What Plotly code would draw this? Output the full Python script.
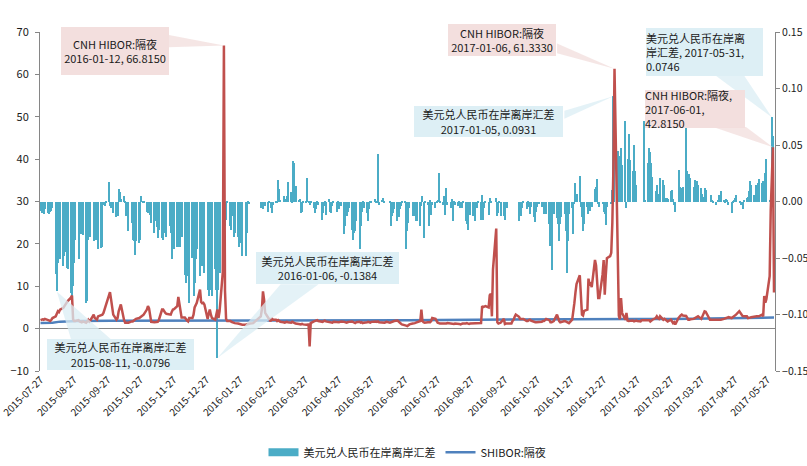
import pandas as pd
import plotly.graph_objects as go

# ---------------- data ----------------
BAR_NAME = "美元兑人民币在岸离岸汇差"
HIBOR_NAME = "CNH HIBOR:隔夜"
SHIBOR_NAME = "SHIBOR:隔夜"

first_day = "2015-07-27"
last_day = "2017-06-02"

# USD/CNY onshore-offshore spread (right axis), one value per business day
spread = [
    # 2015-07
    -0.008, -0.010, -0.009, -0.011, -0.007,
    # 2015-08
    -0.010, -0.011, -0.009, -0.008, -0.006,
    -0.064, -0.0796, -0.054, -0.045, -0.051,
    -0.057, -0.048, -0.045, -0.059, -0.060,
    -0.081, -0.084, -0.075, -0.054, -0.034,
    -0.051,
    # 2015-09
    -0.029, -0.028, -0.029, -0.030,
    -0.090, -0.088, -0.034, -0.004, -0.031,
    -0.035, -0.034, -0.034, -0.019, -0.042,
    -0.041, -0.040, -0.003, -0.004, -0.001,
    0.017, -0.004, -0.006,
    # 2015-10
    -0.006, -0.010,
    -0.014, -0.013, 0.011, 0.008, 0.002,
    0.005, -0.001, -0.013, -0.010, -0.026,
    -0.019, -0.034, -0.035, -0.047, -0.035,
    -0.037, -0.034, 0.005, -0.001, -0.001,
    # 2015-11
    -0.009, -0.010, -0.003, -0.012, -0.019,
    -0.028, -0.017, -0.023, -0.032, -0.025,
    -0.032, -0.034, -0.017, -0.028, -0.031,
    -0.022, -0.028, -0.051, -0.042, -0.042,
    -0.040,
    # 2015-12
    -0.040, -0.034, -0.040, -0.031,
    -0.065, -0.072, -0.059, -0.066, -0.090,
    -0.050, -0.084, -0.072, -0.051, -0.042,
    -0.066, -0.054, -0.057, -0.042, -0.063,
    -0.078, -0.084, -0.060, -0.078,
    # 2016-01
    -0.084,
    -0.060, -0.078, -0.1384, -0.078, -0.063,
    -0.013, -0.025, -0.022, -0.016, -0.001,
    -0.022, -0.025, -0.013, -0.031, -0.028,
    -0.031, -0.040, -0.034, -0.037, -0.048,
    # 2016-02
    -0.048, -0.028, -0.001, -0.002, None,
    None, None, None, None, None,
    -0.006, -0.004, -0.007, -0.003, -0.004,
    -0.009, -0.001, -0.006, -0.010, -0.003,
    -0.001,
    # 2016-03
    -0.001, 0.019, 0.011, 0.001,
    0.005, 0.002, 0.002, 0.005, 0.017,
    0.008, -0.001, 0.036, 0.034, 0.014,
    0.001, 0.002, -0.010, -0.009, -0.001,
    -0.001, 0.021, -0.001, -0.003,
    # 2016-04
    -0.001,
    -0.006, -0.010, -0.007, -0.001, -0.003,
    -0.016, -0.010, -0.004, -0.001, -0.012,
    0.002, -0.009, -0.010, -0.004, -0.001,
    -0.009, -0.001, -0.007, -0.004, -0.004,
    # 2016-05
    -0.029, -0.022, -0.013, -0.009, -0.006,
    -0.025, -0.034, -0.028, -0.026, -0.017,
    -0.042, -0.022, -0.009, -0.001, -0.006,
    -0.010, -0.017, -0.007, -0.001, -0.001,
    0.002, -0.001,
    # 2016-06
    -0.001, 0.042, -0.003,
    0.001, 0.003, -0.001, None, None,
    -0.001, -0.022, -0.013, -0.010, -0.007,
    -0.017, -0.014, -0.007, -0.004, -0.001,
    -0.001, -0.042, -0.026, -0.019,
    # 2016-07
    -0.006,
    -0.013, -0.013, -0.009, -0.017, -0.017,
    -0.022, -0.004, 0.005, -0.032, -0.001,
    -0.003, -0.022, 0.001, -0.012, -0.003,
    -0.006, -0.001, 0.001, 0.025, -0.001,
    # 2016-08
    -0.003, 0.005, -0.012, 0.012, -0.003,
    -0.006, 0.002, -0.017, -0.001, -0.003,
    -0.004, -0.001, -0.006, -0.006, -0.001,
    -0.017, -0.020, -0.025, -0.010, -0.012,
    -0.013, -0.017, -0.006,
    # 2016-09
    -0.006, -0.001,
    -0.016, 0.006, -0.016, -0.006, -0.001,
    -0.012, 0.003, -0.001, None, None,
    0.003, -0.013, -0.010, -0.001, -0.013,
    -0.013, -0.016, -0.006, -0.006, None,
    # 2016-10
    None, None, None, None, None,
    -0.017, -0.013, -0.013, -0.006, -0.001,
    -0.007, -0.001, -0.005, -0.011, -0.005,
    -0.014, -0.018, -0.009, -0.005, -0.002,
    -0.005,
    # 2016-11
    -0.005, -0.011, -0.006, -0.011,
    -0.020, -0.039, -0.061, -0.005, -0.011,
    -0.015, -0.020, -0.035, -0.020, -0.014,
    -0.011, -0.026, -0.063, -0.035, -0.011,
    -0.006, -0.029, -0.002,
    # 2016-12
    0.016, 0.007,
    0.023, -0.005, -0.014, -0.026, -0.020,
    -0.005, -0.011, -0.008, -0.002, -0.005,
    0.011, 0.013, 0.020, -0.002, -0.005,
    -0.002, -0.009, -0.011, -0.021, -0.005,
    # 2017-01
    None, -0.002, 0.010, 0.0931, 0.060,
    0.045, 0.038, 0.040, 0.047, 0.032,
    0.071, -0.006, 0.038, 0.060, 0.037,
    0.027, 0.050, 0.027, 0.015, None,
    None, None,
    # 2017-02
    None, 0.071, 0.001,
    0.034, 0.047, 0.044, 0.034, 0.022,
    0.009, 0.015, 0.007, 0.007, 0.021,
    0.019, 0.015, 0.003, 0.003, 0.002,
    0.009, 0.010,
    # 2017-03
    0.002, -0.003, -0.009,
    0.028, 0.013, 0.003, 0.012, 0.013,
    0.065, 0.027, 0.018, 0.024, 0.021,
    0.013, 0.019, 0.018, 0.018, 0.015,
    0.012, 0.007, 0.004, 0.012, 0.010,
    # 2017-04
    None, None, 0.006, 0.001, -0.001,
    -0.003, 0.001, 0.006, 0.002, 0.009,
    0.001, -0.001, 0.002, 0.001, -0.003,
    -0.010, -0.001, 0.001, 0.003, 0.006,
    # 2017-05
    None, -0.001, -0.003, -0.007, 0.001,
    0.003, 0.004, 0.009, 0.018, 0.015,
    0.006, 0.015, 0.015, 0.016, 0.020,
    0.016, 0.018, 0.016, 0.025, 0.038,
    0.001, 0.003, 0.0746,
    # 2017-06
    0.058,
]

# CNH HIBOR overnight (left axis), one value per business day
hibor = [
    # 2015-07
    2.0, 2.1, 2.2, 2.1, 2.3,
    # 2015-08
    2.0, 1.8, 1.8, 2.1, 2.5,
    2.9, 3.7, 4.1, 3.9, 4.5,
    4.9, 5.3, 5.4, 6.1, 6.5,
    7.3, 7.8, 2.2, 1.8, 1.8,
    2.0,
    # 2015-09
    1.7, 1.5, 1.5, 1.7,
    1.4, 1.7, 2.1, 1.7, 2.0,
    3.3, 2.5, 2.3, 2.1, 2.9,
    3.1, 3.3, 3.7, 4.5, 5.3,
    7.6, 8.6, 6.9,
    # 2015-10
    4.5, 3.3,
    2.1, 2.5, 4.1, 5.0, 5.7,
    2.0, 1.4, 1.4, 1.4, 1.4,
    1.7, 1.7, 1.9, 2.1, 2.3,
    2.5, 2.7, 2.9, 2.9, 3.3,
    # 2015-11
    4.5, 5.3, 4.8, 2.5, 1.6,
    1.5, 1.5, 1.6, 1.6, 2.0,
    4.5, 4.5, 4.0, 3.7, 3.5,
    3.3, 3.3, 4.0, 4.5, 4.6,
    5.3,
    # 2015-12
    7.5, 6.0, 4.5, 2.6,
    2.6, 2.1, 1.9, 1.7, 2.5,
    2.5, 3.3, 5.0, 5.5, 6.1,
    9.2, 6.3, 6.0, 6.1, 5.7,
    2.3, 3.5, 4.5, 3.3,
    # 2016-01
    2.5,
    2.1, 3.3, 4.5, 2.5, 4.1,
    13.4, 66.815, 9.0, 2.3, 1.8,
    1.8, 1.6, 1.5, 1.4, 1.3,
    1.2, 1.1, 1.0, 1.0, 0.9,
    # 2016-02
    0.9, 1.0, 1.1, 1.2, 1.2,
    1.3, 1.5, 1.7, 1.9, 2.1,
    2.9, 4.5, 8.8, 6.9, 3.7,
    2.5, 2.1, 1.7, 2.5, 2.1,
    2.1,
    # 2016-03
    1.8, 2.0, 1.7, 1.6,
    1.5, 1.4, 1.5, 1.6, 1.5,
    1.4, 1.6, 1.5, 1.3, 1.2,
    1.1, 1.0, 1.0, 1.1, 1.0,
    0.9, 0.9, 1.0, -4.2,
    # 2016-04
    1.3,
    1.7, 1.8, 1.9, 2.0, 1.8,
    1.7, 1.6, 1.8, 1.9, 1.7,
    1.5, 1.6, 1.5, 1.4, 1.6,
    1.5, 1.4, 1.5, 1.6, 1.7,
    # 2016-05
    1.6, 1.5, 1.4, 1.5, 1.6,
    1.7, 1.5, 1.4, 1.3, 1.5,
    1.6, 1.4, 1.5, 1.3, 1.4,
    1.5, 1.6, 1.5, 1.4, 1.6,
    1.8, 1.7,
    # 2016-06
    1.6, 1.7, 1.5,
    1.4, 1.3, 1.4, 1.5, 1.6,
    1.4, 1.5, 1.6, 1.7, 1.8,
    1.9, 1.6, 1.4, 1.2, 1.0,
    0.9, 0.7, 0.6, 0.8,
    # 2016-07
    1.0,
    1.2, 1.2, 1.3, 1.4, 1.5,
    1.8, 4.5, 1.8, 1.5, 1.4,
    1.5, 1.5, 1.5, 1.8, 2.5,
    2.3, 1.8, 1.4, 1.3, 1.2,
    # 2016-08
    1.2, 1.2, 1.1, 1.2, 1.3,
    1.2, 1.1, 1.0, 1.1, 1.2,
    1.2, 1.1, 1.0, 1.1, 1.2,
    1.2, 1.3, 1.2, 1.1, 1.2,
    1.2, 1.2, 1.2,
    # 2016-09
    1.2, 1.2,
    1.3, 5.3, 5.1, 5.2, 5.3,
    5.0, 7.9, 8.2, 2.9, 14.0,
    23.6, 1.5, 1.2, 1.3, 1.4,
    2.3, 1.1, 1.2, 1.2, 1.1,
    # 2016-10
    1.2, 1.8, 2.1, 2.8, 3.3,
    2.8, 2.3, 2.3, 2.3, 2.3,
    1.8, 1.8, 2.0, 2.1, 1.9,
    1.5, 1.5, 1.5, 1.5, 1.5,
    1.6,
    # 2016-11
    1.8, 1.8, 2.0, 2.3,
    2.0, 1.5, 1.5, 1.6, 1.8,
    3.3, 2.5, 1.8, 1.5, 1.6,
    1.8, 1.7, 1.5, 1.4, 1.3,
    2.1, 3.7, 6.0,
    # 2016-12
    8.5, 10.5,
    12.6, 7.2, 3.3, 3.1, 4.2,
    4.5, 11.8, 10.4, 10.6, 9.8,
    16.2, 14.9, 10.6, 7.2, 7.2,
    12.8, 16.2, 8.0, 12.8, 16.6,
    # 2017-01
    17.1, 17.9, 25.0, 38.3, 61.333,
    16.0, 3.0, 2.2, 7.2, 3.7,
    2.1, 3.7, 1.9, 1.8, 1.8,
    1.9, 1.7, 1.8, 1.9, 1.8,
    1.7, 2.0,
    # 2017-02
    2.0, 2.0, 2.1,
    2.1, 2.0, 1.7, 2.0, 2.1,
    2.5, 2.9, 2.5, 2.3, 2.9,
    2.1, 2.3, 2.1, 1.7, 1.7,
    2.1, 1.7,
    # 2017-03
    1.3, 1.5, 1.0,
    2.5, 2.9, 3.1, 3.3, 3.1,
    3.0, 2.5, 2.1, 2.1, 2.2,
    2.3, 2.5, 2.7, 2.8, 2.9,
    2.3, 3.0, 3.7, 4.1, 4.0,
    # 2017-04
    2.5, 2.1, 2.1, 2.1, 2.1,
    2.1, 2.1, 2.1, 2.1, 2.1,
    2.3, 2.5, 2.5, 2.6, 2.7,
    2.5, 2.7, 2.9, 2.9, 3.3,
    # 2017-05
    4.1, 3.7, 3.3, 3.0, 2.9,
    2.9, 2.5, 2.5, 2.6, 2.7,
    2.9, 2.9, 2.9, 2.9, 2.9,
    3.3, 2.9, 7.7, 6.1, 7.0,
    12.4, 28.1, 39.0,
    # 2017-06
    42.815, 8.5,
]

# SHIBOR overnight (left axis), sampled at month ends
shibor_dates = [
    "2015-07-27", "2015-08-07", "2015-08-14", "2015-08-31", "2015-09-30",
    "2015-10-30", "2015-11-30", "2015-12-31", "2016-01-29", "2016-02-29",
    "2016-03-31", "2016-04-29", "2016-05-31", "2016-06-30", "2016-07-29",
    "2016-08-31", "2016-09-30", "2016-10-31", "2016-11-30", "2016-12-30",
    "2017-01-26", "2017-02-28", "2017-03-31", "2017-04-28", "2017-05-31",
    "2017-06-02",
]
shibor = [
    1.35, 1.40, 1.65, 1.80, 1.85,
    1.85, 1.85, 1.95, 1.95, 1.95,
    1.95, 2.00, 2.00, 2.00, 2.05,
    2.10, 2.20, 2.25, 2.35, 2.30,
    2.30, 2.30, 2.40, 2.45, 2.55,
    2.60,
]

tick_dates = [
    "2015-07-27", "2015-08-27", "2015-09-27", "2015-10-27", "2015-11-27",
    "2015-12-27", "2016-01-27", "2016-02-27", "2016-03-27", "2016-04-27",
    "2016-05-27", "2016-06-27", "2016-07-27", "2016-08-27", "2016-09-27",
    "2016-10-27", "2016-11-27", "2016-12-27", "2017-01-27", "2017-02-27",
    "2017-03-27", "2017-04-27", "2017-05-27",
]

# ---------------- layout constants ----------------
L_MIN, L_MAX = -10, 70
R_MIN, R_MAX = -0.15, 0.15
BAR_COLOR = "#4BACC6"
HIBOR_COLOR = "#C0504D"
SHIBOR_COLOR = "#4F81BD"
AXIS_COLOR = "#868686"
FONT = "Noto Sans CJK SC, Microsoft YaHei, sans-serif"
PINK_BOX = "rgba(242,221,220,0.95)"
BLUE_BOX = "rgba(219,238,244,0.95)"
PINK_WEDGE = "rgba(242,221,220,0.75)"
BLUE_WEDGE = "rgba(219,238,244,0.75)"

dates = pd.bdate_range(first_day, last_day)
spread_s = pd.Series(spread, index=dates[:len(spread)], dtype="float64")
hibor_s = pd.Series(hibor, index=dates[:len(hibor)], dtype="float64")


def to_left(v):
    """bar value (right axis) -> left axis units"""
    return L_MIN + (v - R_MIN) * (L_MAX - L_MIN) / (R_MAX - R_MIN)


fig = go.Figure()

# bars on primary (right-hand) axis so that lines overlay them
fig.add_trace(go.Bar(
    x=spread_s.index, y=spread_s.values, name=BAR_NAME,
    marker=dict(color=BAR_COLOR, line=dict(width=0)),
    width=86400000 * 0.95, showlegend=False, yaxis="y",
))
fig.add_trace(go.Scatter(
    x=pd.to_datetime(shibor_dates), y=shibor, name=SHIBOR_NAME, mode="lines",
    line=dict(color=SHIBOR_COLOR, width=2.5), yaxis="y2", showlegend=False,
))
fig.add_trace(go.Scatter(
    x=hibor_s.index, y=hibor_s.values, name=HIBOR_NAME, mode="lines",
    line=dict(color=HIBOR_COLOR, width=2.5), yaxis="y2", showlegend=False,
))
# legend proxies
fig.add_trace(go.Scatter(x=[None], y=[None], mode="lines", name=BAR_NAME,
                         line=dict(color=BAR_COLOR, width=8), yaxis="y2"))
fig.add_trace(go.Scatter(x=[None], y=[None], mode="lines", name=SHIBOR_NAME,
                         line=dict(color=SHIBOR_COLOR, width=2.5), yaxis="y2"))

# callouts: (text, centre date, centre value, w, h, align, kind, base pts, tip)
callouts = [
    ("CNH HIBOR:隔夜<br>2016-01-12, 66.8150", "2015-10-03 13:00", 65.5, 108, 48, "center", "pink",
     [("2015-11-22 07:00", 69.3), ("2015-11-22 07:00", 66.4)], ("hibor", "2016-01-12")),
    (BAR_NAME + "<br>2015-08-11, -0.0796", "2015-10-08 15:00", -6.1, 147, 31, "center", "blue",
     [("2015-08-24 02:00", -2.5), ("2015-09-29 21:00", -2.5)], ("spread", "2015-08-11")),
    (BAR_NAME + "<br>2016-01-06, -0.1384", "2016-04-16 02:00", 14.2, 143, 32, "center", "blue",
     [("2016-03-04 07:00", 10.5), ("2016-04-08 07:00", 10.5)], ("spread", "2016-01-06")),
    (BAR_NAME + "<br>2017-01-05, 0.0931", "2016-09-12 05:00", 48.9, 149, 31, "center", "blue",
     [("2016-11-20 19:00", 51.4), ("2016-11-20 19:00", 49.5)], ("spread", "2017-01-05")),
    ("CNH HIBOR:隔夜<br>2017-01-06, 61.3330", "2016-09-24 15:00", 68.1, 108, 32, "center", "pink",
     [("2016-11-14 02:00", 67.3), ("2016-11-14 02:00", 65.0)], ("hibor", "2017-01-06")),
    ("美元兑人民币在岸离<br>岸汇差, 2017-05-31,<br>0.0746", "2017-03-30 00:00", 65.3, 117, 48, "left", "blue",
     [("2017-04-09 17:00", 59.6), ("2017-05-05 17:00", 59.6)], ("spread", "2017-05-31")),
    ("CNH HIBOR:隔夜,<br>2017-06-01,<br>42.8150", "2017-03-21 07:00", 51.9, 100, 38, "left", "pink",
     [("2017-04-06 22:00", 47.6), ("2017-05-07 05:00", 47.6)], ("hibor", "2017-06-01")),
]

for text, cx, cy, w, h, align, kind, base, (series, tip_day) in callouts:
    tip_x = pd.Timestamp(tip_day)
    if series == "hibor":
        tip_y = float(hibor_s[tip_x])
    else:
        tip_y = to_left(float(spread_s[tip_x]))
    wx = [pd.Timestamp(base[0][0]), tip_x, pd.Timestamp(base[1][0]), pd.Timestamp(base[0][0])]
    wy = [base[0][1], tip_y, base[1][1], base[0][1]]
    fig.add_trace(go.Scatter(
        x=wx, y=wy, mode="lines", fill="toself",
        fillcolor=PINK_WEDGE if kind == "pink" else BLUE_WEDGE,
        line=dict(width=0), hoverinfo="skip", showlegend=False, yaxis="y2",
    ))
    fig.add_annotation(
        x=pd.Timestamp(cx), y=cy, xref="x", yref="y2", text=text,
        showarrow=False, width=w, height=h, align=align,
        xanchor="center", yanchor="middle", borderpad=0, borderwidth=0,
        bgcolor=PINK_BOX if kind == "pink" else BLUE_BOX,
        font=dict(family=FONT, size=11, color="#1a1a1a"),
    )

fig.update_layout(
    width=807, height=466,
    margin=dict(l=40, r=32, t=32, b=95, autoexpand=False),
    paper_bgcolor="white", plot_bgcolor="white",
    font=dict(family=FONT, size=11, color="#1a1a1a"),
    bargap=0,
    xaxis=dict(
        type="date", range=["2015-07-26 12:00", "2017-06-02 22:00"],
        tickvals=pd.to_datetime(tick_dates), tickformat="%Y-%m-%d",
        tickangle=-45, showgrid=False, zeroline=False, showline=False,
        ticks="", tickfont=dict(size=10), ticklabeloverflow="allow",
    ),
    yaxis=dict(
        side="right", range=[R_MIN, R_MAX],
        tickvals=[-0.15, -0.10, -0.05, 0.0, 0.05, 0.10, 0.15], tickformat=".2f",
        showgrid=False, zeroline=False, showline=True, linecolor=AXIS_COLOR,
        linewidth=1, ticks="outside", ticklen=4, tickcolor=AXIS_COLOR,
        ticklabelstandoff=0, tickfont=dict(size=10.5),
    ),
    yaxis2=dict(
        overlaying="y", side="left", range=[L_MIN, L_MAX], dtick=10,
        showgrid=False, zeroline=True, zerolinecolor=AXIS_COLOR, zerolinewidth=1,
        showline=True, linecolor=AXIS_COLOR, linewidth=1,
        ticks="outside", ticklen=4, tickcolor=AXIS_COLOR, ticklabelstandoff=4,
    ),
    legend=dict(orientation="h", x=0.5, xanchor="center", y=-0.24, yanchor="middle",
                font=dict(size=11), bgcolor="rgba(0,0,0,0)"),
    showlegend=True,
)

fig.write_html("out.html")
